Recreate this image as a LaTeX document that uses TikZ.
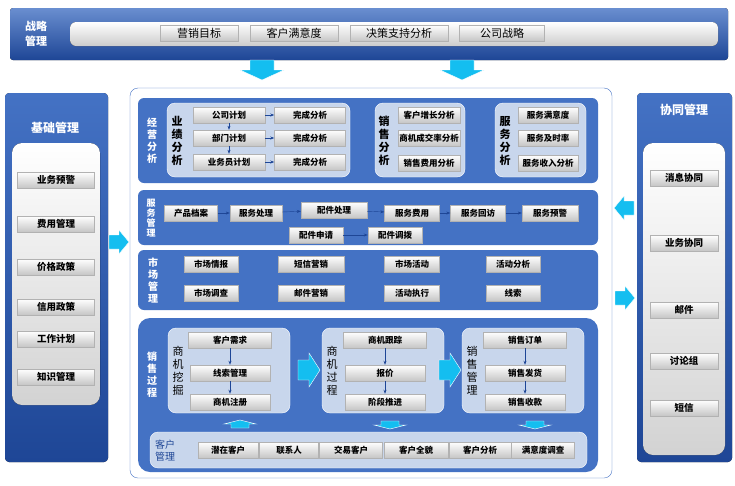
\documentclass[tikz,border=0pt]{standalone}
\usepackage{fontspec}
\setmainfont{Noto Sans CJK SC}
\usetikzlibrary{arrows.meta,positioning,calc}
\definecolor{panelblue}{RGB}{68,114,196}
\definecolor{darkblue}{RGB}{30,70,150}
\definecolor{paleblue}{RGB}{200,214,236}
\definecolor{arrowcyan}{RGB}{20,190,240}
\tikzset{
  item/.style={draw=gray!60, top color=white, bottom color=gray!45, font=\bfseries\fontsize{8.5}{10}\selectfont, inner sep=0pt, minimum height=16pt},
  panel/.style={fill=panelblue, rounded corners=6pt},
  inner/.style={fill=paleblue, draw=white, rounded corners=8pt},
  seclabel/.style={white, font=\bfseries\fontsize{10}{12}\selectfont, align=center, inner sep=0pt},
  vlabel/.style={black, font=\fontsize{10}{12}\selectfont, align=center, inner sep=0pt},
  flow/.style={-{Stealth[length=4pt]}, thick, darkblue},
  fat/.style={fill=arrowcyan, draw=white}
}
% fat arrows: centre x, centre y, half width, half length, half shaft
\newcommand\fatdown[5]{\draw[fat] ($(#1,#2)+(-#5,-#4)$) -- ++(2*#5,0) -- ++(0,#4) -- ($(#1,#2)+(#3,0)$) -- ($(#1,#2)+(0,#4)$) -- ($(#1,#2)+(-#3,0)$) -- ($(#1,#2)+(-#5,0)$) -- cycle;}
\newcommand\fatup[5]{\draw[fat] ($(#1,#2)+(-#5,#4)$) -- ++(2*#5,0) -- ++(0,-#4) -- ($(#1,#2)+(#3,0)$) -- ($(#1,#2)+(0,-#4)$) -- ($(#1,#2)+(-#3,0)$) -- ($(#1,#2)+(-#5,0)$) -- cycle;}
\newcommand\fatright[5]{\draw[fat] ($(#1,#2)+(-#4,-#5)$) -- ++(#4,0) -- ($(#1,#2)+(0,-#3)$) -- ($(#1,#2)+(#4,0)$) -- ($(#1,#2)+(0,#3)$) -- ($(#1,#2)+(0,#5)$) -- ($(#1,#2)+(-#4,#5)$) -- cycle;}
\newcommand\fatleft[5]{\draw[fat] ($(#1,#2)+(#4,-#5)$) -- ++(-#4,0) -- ($(#1,#2)+(0,-#3)$) -- ($(#1,#2)+(-#4,0)$) -- ($(#1,#2)+(0,#3)$) -- ($(#1,#2)+(0,#5)$) -- ($(#1,#2)+(#4,#5)$) -- cycle;}
\begin{document}
\begin{tikzpicture}[x=1pt,y=-1pt]
    \useasboundingbox (0,0) rectangle (735,485);
    % Top strategy bar
    \fill[top color=panelblue!80, bottom color=darkblue, rounded corners=3pt] (10,8) rectangle (728,60);
    \node[seclabel, font=\bfseries\fontsize{11}{15}\selectfont] (zl) at (36,34) {战略\\管理};
    \fill[top color=white, bottom color=gray!40, rounded corners=6pt] (70,22) rectangle (718,46);
    \foreach \x/\w/\t [count=\i] in {199/78/营销目标, 294/88/客户满意度, 399/98/决策支持分析, 502/85/公司战略}
      \node[item, minimum width=\w pt, font=\fontsize{11}{13}\selectfont] (zm\i) at (\x,33) {\t};
    \fatdown{262}{70}{22}{10}{12}
    \fatdown{462}{70}{22}{10}{12}

    % Left panel
    \fill[top color=panelblue, bottom color=darkblue, rounded corners=4pt] (5,93) rectangle (108,462);
    \node[seclabel, font=\bfseries\fontsize{12}{14}\selectfont] (jc) at (55,128) {基础管理};
    \fill[top color=white, bottom color=gray!35, rounded corners=10pt] (12,143) rectangle (100,405);
    \foreach \y/\t [count=\i] in {180/业务预警, 224/费用管理, 267/价格政策, 307/信用政策, 339/工作计划, 377/知识管理}
      \node[item, minimum width=77pt, font=\bfseries\fontsize{9.5}{11}\selectfont] (jc\i) at (56,\y) {\t};

    % Right panel
    \fill[top color=panelblue, bottom color=darkblue, rounded corners=4pt] (637,93) rectangle (732,462);
    \node[seclabel, font=\bfseries\fontsize{12}{14}\selectfont] (xt) at (684,110) {协同管理};
    \fill[top color=white, bottom color=gray!35, rounded corners=10pt] (643,143) rectangle (725,455);
    \foreach \y/\t [count=\i] in {178/消息协同, 243/业务协同, 310/邮件, 361/讨论组, 408/短信}
      \node[item, minimum width=68pt, font=\bfseries\fontsize{9.5}{11}\selectfont] (xt\i) at (684,\y) {\t};

    % Side arrows
    \fatright{119}{242}{12}{10}{7}
    \fatleft{624}{208}{12}{10}{7}
    \fatright{625}{298}{12}{10}{7}

    % Center container
    \draw[panelblue, fill=white, rounded corners=8pt] (130,88) rectangle (612,478);

    % 经营分析
    \fill[panel] (138,98) rectangle (598,183);
    \node[seclabel] (jy) at (152,141) {经\\营\\分\\析};
    \fill[inner] (167,103) rectangle (350,177);
    \node[vlabel, font=\bfseries\fontsize{11}{13}\selectfont] (yj) at (177,141) {业\\绩\\分\\析};
    \foreach \y/\t [count=\i] in {115/公司计划, 138/部门计划, 162/业务员计划} {
      \node[item, minimum width=72pt] (jh\i) at (229,\y) {\t};
      \node[item, minimum width=71pt] (wc\i) at (310,\y) {完成分析};
      \draw[flow] (jh\i) -- (wc\i);
    }
    \draw[flow, thin] (jh1) -- (jh2);
    \draw[flow, thin] (jh2) -- (jh3);
    \fill[inner] (375,103) rectangle (465,177);
    \node[vlabel, font=\bfseries\fontsize{11}{13}\selectfont] (xsfx) at (384,141) {销\\售\\分\\析};
    \foreach \y/\t [count=\i] in {115/客户增长分析, 138/商机成交率分析, 163/销售费用分析}
      \node[item, minimum width=62pt] (xs\i) at (429,\y) {\t};
    \fill[inner] (495,103) rectangle (586,177);
    \node[vlabel, font=\bfseries\fontsize{11}{13}\selectfont] (fwfx) at (505,141) {服\\务\\分\\析};
    \foreach \y/\t [count=\i] in {115/服务满意度, 138/服务及时率, 163/服务收入分析}
      \node[item, minimum width=60pt] (fw\i) at (548,\y) {\t};

    % 服务管理
    \fill[panel] (138,190) rectangle (598,245);
    \node[seclabel, font=\bfseries\fontsize{9}{10}\selectfont] (fwgl) at (151,218) {服\\务\\管\\理};
    \node[item, minimum width=53pt] (fm1) at (191,213) {产品档案};
    \node[item, minimum width=52pt] (fm2) at (256,213) {服务处理};
    \node[item, minimum width=66pt] (fm3) at (334,210) {配件处理};
    \node[item, minimum width=55pt] (fm4) at (412,213) {服务费用};
    \node[item, minimum width=55pt] (fm5) at (478,213) {服务回访};
    \node[item, minimum width=56pt] (fm6) at (550,213) {服务预警};
    \foreach \a/\b in {fm1/fm2, fm2/fm3, fm3/fm4, fm4/fm5, fm5/fm6}
      \draw[flow, thin] (\a) -- (\b);
    \node[item, minimum width=54pt] (pj1) at (316,235) {配件申请};
    \node[item, minimum width=54pt] (pj2) at (395,235) {配件调拨};
    \draw[flow] (pj1) -- (pj2);

    % 市场管理
    \fill[panel] (138,250) rectangle (598,310);
    \node[seclabel] (scgl) at (153,280) {市\\场\\管\\理};
    \foreach \x/\w/\a/\b [count=\i] in {211/54/市场情报/市场调查, 311/66/短信营销/邮件营销, 412/55/市场活动/活动执行, 513/54/活动分析/线索} {
      \node[item, minimum width=\w pt] (sa\i) at (\x,264) {\a};
      \node[item, minimum width=\w pt] (sb\i) at (\x,293) {\b};
    }

    % 销售过程
    \fill[panel, rounded corners=12pt] (138,318) rectangle (598,472);
    \node[seclabel] (xsgc) at (152,375) {销\\售\\过\\程};
    \foreach \x/\ix/\l/\a/\b/\c [count=\i] in {168/230/商\\机\\挖\\掘/客户需求/线索管理/商机注册, 322/385/商\\机\\过\\程/商机跟踪/报价/阶段推进, 462/525/销\\售\\管\\理/销售订单/销售发货/销售收款} {
      \fill[inner] (\x,328) rectangle ($(\x,413)+(122,0)$);
      \node[vlabel, font=\fontsize{11}{13}\selectfont] (gl\i) at ($(\x,371)+(10,0)$) {\l};
      \node[item, minimum width=83pt] (p\i a) at (\ix,340) {\a};
      \node[item, minimum width=80pt] (p\i b) at (\ix,373) {\b};
      \node[item, minimum width=80pt] (p\i c) at (\ix,402) {\c};
      \draw[flow] (p\i a) -- (p\i b);
      \draw[flow] (p\i b) -- (p\i c);
    }
    \fatright{309}{370}{17}{11}{10}
    \fatright{450}{370}{17}{11}{10}
    \fatup{240}{424}{16}{4}{9}
    \fatdown{390}{425}{16}{4}{9}
    \fatdown{535}{425}{16}{4}{9}

    % 客户管理
    \fill[inner] (150,432) rectangle (587,468);
    \node[vlabel, darkblue, align=left] (khgl) at (165,451) {客户\\管理};
    \foreach \x/\w/\t [count=\i] in {228/60/潜在客户, 289/59/联系人, 351/63/交易客户, 416/64/客户全貌, 480/62/客户分析, 543/63/满意度调查}
      \node[item, minimum width=\w pt] (kh\i) at (\x,450) {\t};
\end{tikzpicture}
\end{document}
